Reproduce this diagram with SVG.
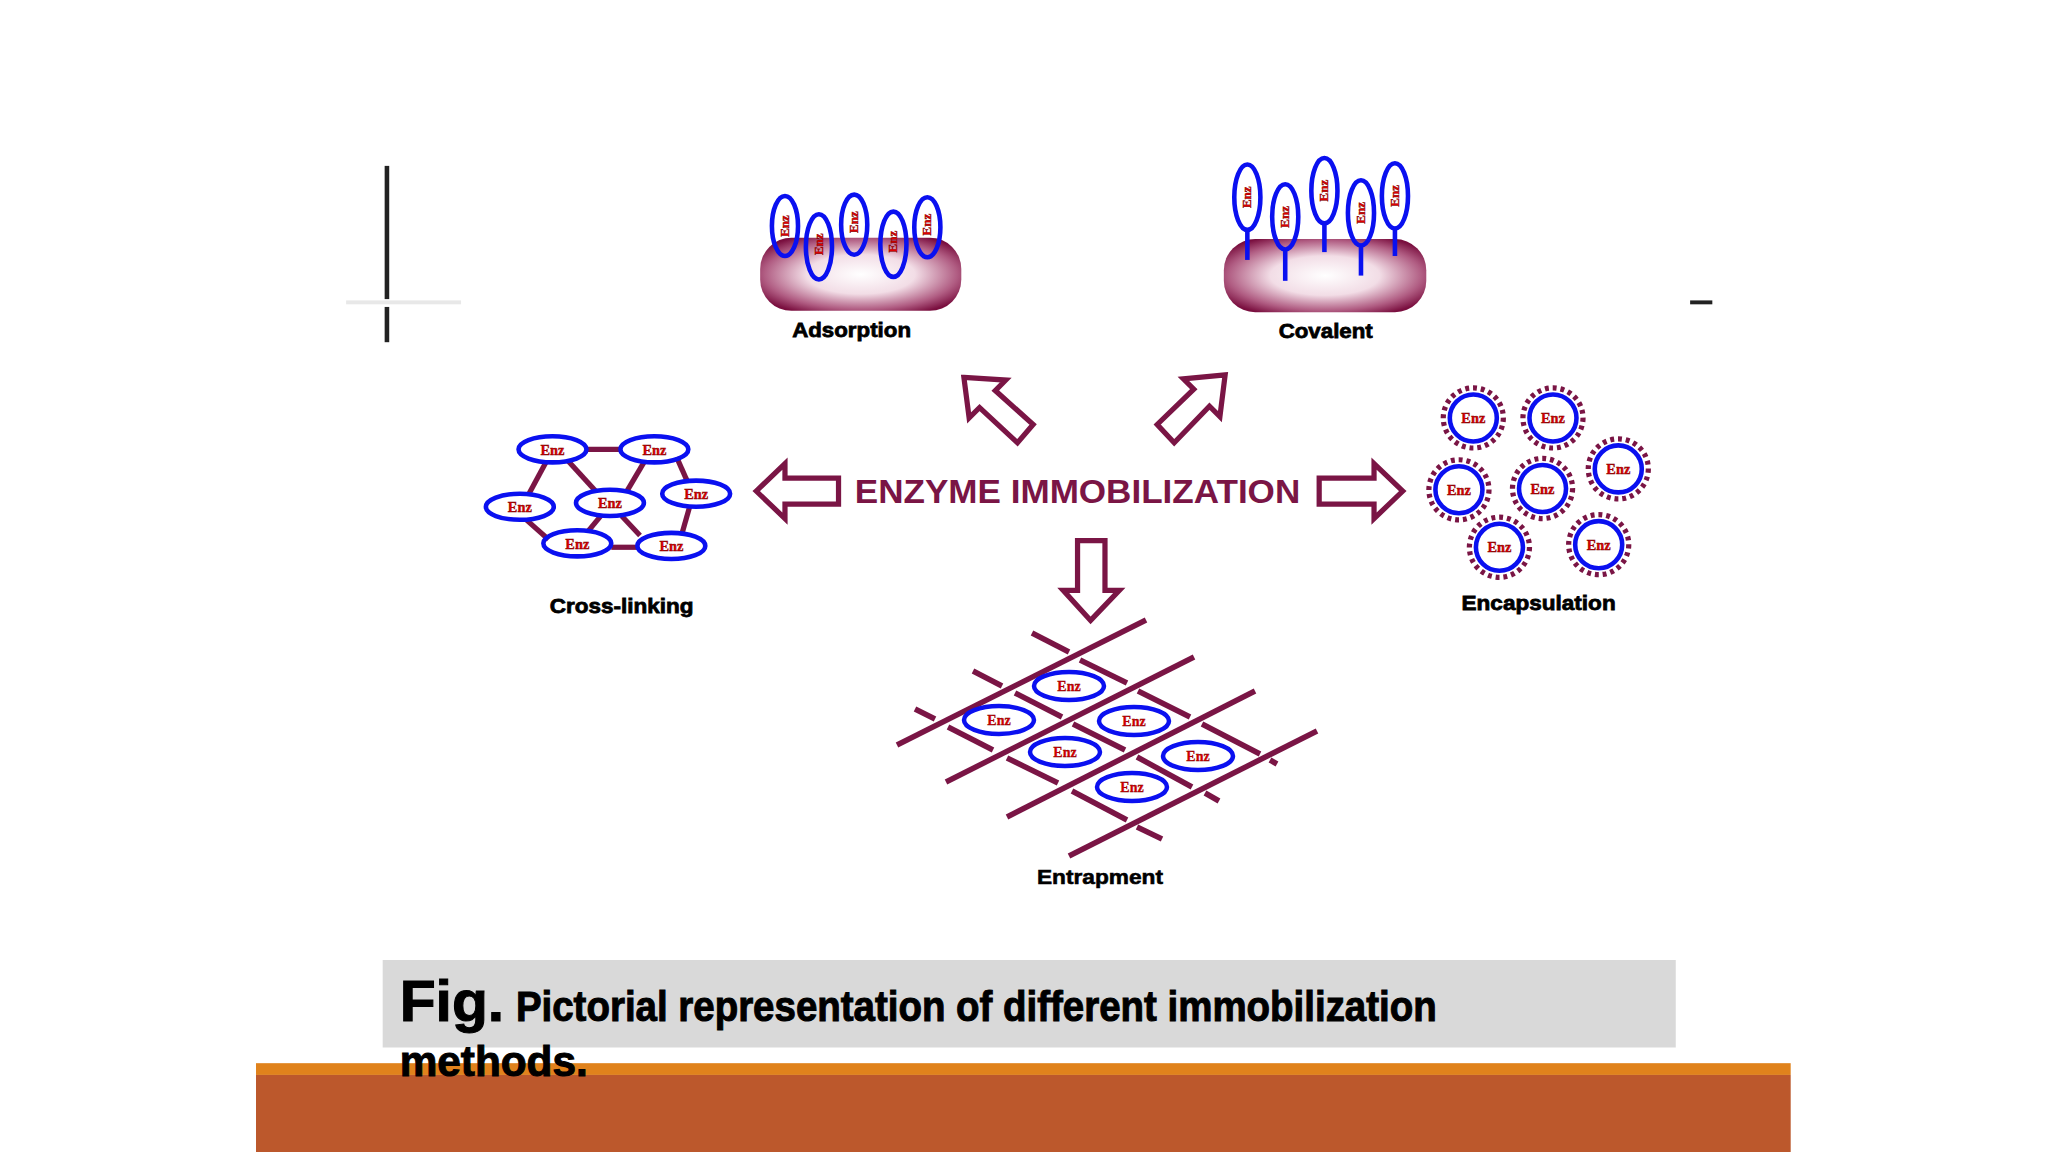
<svg xmlns="http://www.w3.org/2000/svg" width="2048" height="1152" viewBox="0 0 2048 1152">
<defs>
<radialGradient id="pill" cx="0.5" cy="0.5" r="0.6">
<stop offset="0" stop-color="#ffffff"/><stop offset="0.45" stop-color="#f2dde6"/><stop offset="0.8" stop-color="#b05c82"/><stop offset="1" stop-color="#7a0f3f"/>
</radialGradient>
<style>
.enz{fill:none;stroke:#0a10f0;stroke-width:3.5}
.et{font-family:"Liberation Serif",serif;font-weight:bold;fill:#e00000;stroke:#700;stroke-width:0.3;text-anchor:middle}
.lbl{font-family:"Liberation Sans",sans-serif;font-weight:bold;fill:#000;stroke:#000;stroke-width:0.6;text-anchor:middle}
.arr{fill:#fff;stroke:#7a1545;stroke-width:4;stroke-linejoin:miter}
.mar{stroke:#7a1545;stroke-width:4;fill:none;stroke-linecap:butt}
.cap{stroke:#7a1545;stroke-width:4;fill:none;stroke-dasharray:3 3}
.ent{stroke:#7a1545;stroke-width:5.5;fill:none}
.enz2{fill:#fff;stroke:#0a10f0;stroke-width:4.5}
.ct{font-family:"Liberation Sans",sans-serif;font-weight:bold;fill:#000;stroke:#000;stroke-width:0.8}
</style>
</defs>
<rect width="2048" height="1152" fill="#fff"/>
<g transform="scale(1.30612)">
<g id="decor">
<rect x="294.5" y="127" width="3.5" height="102" fill="#222"/>
<rect x="294.5" y="235" width="3.5" height="27" fill="#222"/>
<rect x="265" y="230" width="88" height="3" fill="#e8e8e8"/>
<rect x="1294" y="230" width="17" height="3" fill="#222"/>
</g>
<g id="adsorption">
<rect x="582" y="182" width="154" height="56" rx="24" fill="url(#pill)"/>
<g class="enz">
<ellipse cx="601" cy="173" rx="10" ry="23"/><ellipse cx="627" cy="189" rx="10" ry="25"/><ellipse cx="654" cy="172" rx="10" ry="23"/><ellipse cx="684" cy="187" rx="10" ry="25"/><ellipse cx="710" cy="174" rx="10" ry="23"/>
</g>
<g class="et" font-size="10">
<text transform="translate(604,173) rotate(-90)">Enz</text><text transform="translate(630,187) rotate(-90)">Enz</text><text transform="translate(657,170) rotate(-90)">Enz</text><text transform="translate(687,185) rotate(-90)">Enz</text><text transform="translate(713,172) rotate(-90)">Enz</text>
</g>
<text class="lbl" x="652" y="258" font-size="16" textLength="91" lengthAdjust="spacingAndGlyphs">Adsorption</text>
</g>
<g id="covalent">
<rect x="937" y="183" width="155" height="56" rx="24" fill="url(#pill)"/>
<g class="enz">
<ellipse cx="955" cy="151" rx="10" ry="25"/><line x1="955" y1="176" x2="955" y2="199"/>
<ellipse cx="984" cy="166" rx="10" ry="25"/><line x1="984" y1="191" x2="984" y2="215"/>
<ellipse cx="1014" cy="146" rx="10" ry="25"/><line x1="1014" y1="171" x2="1014" y2="193"/>
<ellipse cx="1042" cy="163" rx="10" ry="25"/><line x1="1042" y1="188" x2="1042" y2="211"/>
<ellipse cx="1068" cy="150" rx="10" ry="25"/><line x1="1068" y1="175" x2="1068" y2="196"/>
</g>
<g class="et" font-size="10">
<text transform="translate(958,151) rotate(-90)">Enz</text><text transform="translate(987,166) rotate(-90)">Enz</text><text transform="translate(1017,146) rotate(-90)">Enz</text><text transform="translate(1045,163) rotate(-90)">Enz</text><text transform="translate(1071,150) rotate(-90)">Enz</text>
</g>
<text class="lbl" x="1015" y="259" font-size="16" textLength="72" lengthAdjust="spacingAndGlyphs">Covalent</text>
</g>
<g id="center">
<text x="825" y="385" font-family="Liberation Sans,sans-serif" font-weight="bold" font-size="26" fill="#7a1545" text-anchor="middle" textLength="341" lengthAdjust="spacingAndGlyphs">ENZYME IMMOBILIZATION</text>
</g>
<g id="connectors">
<polygon class="arr" points="579,376 601,355 601,366 642,366 642,386 601,386 601,397"/>
<polygon class="arr" points="1074,376 1052,355 1052,366 1010,366 1010,386 1052,386 1052,397"/>
<polygon class="arr" points="835,475 814,452 825,452 825,414 846,414 846,452 857,452"/>
<polygon class="arr" points="738,289 770,291 762,299 791,325 779,339 750,312 742,320"/>
<polygon class="arr" points="938,287 906,290 914,298 886,325 899,339 926,311 934,319"/>
</g>
<g id="crosslinking">
<g class="mar">
<line x1="449" y1="344" x2="475" y2="344"/><line x1="418" y1="354" x2="405" y2="378"/><line x1="435" y1="353" x2="456" y2="376"/>
<line x1="493" y1="354" x2="480" y2="376"/><line x1="518" y1="350" x2="526" y2="368"/><line x1="528" y1="388" x2="522" y2="409"/>
<line x1="403" y1="398" x2="420" y2="413"/><line x1="460" y1="395" x2="450" y2="407"/><line x1="476" y1="395" x2="490" y2="410"/><line x1="468" y1="419" x2="488" y2="419"/>
</g>
<g class="enz">
<ellipse cx="423" cy="344" rx="26" ry="10"/><ellipse cx="501" cy="344" rx="26" ry="10"/><ellipse cx="533" cy="378" rx="26" ry="10"/><ellipse cx="398" cy="388" rx="26" ry="10"/><ellipse cx="467" cy="385" rx="26" ry="10"/><ellipse cx="442" cy="416" rx="26" ry="10"/><ellipse cx="514" cy="418" rx="26" ry="10"/>
</g>
<g class="et" font-size="11">
<text x="423" y="348">Enz</text><text x="501" y="348">Enz</text><text x="533" y="382">Enz</text><text x="398" y="392">Enz</text><text x="467" y="389">Enz</text><text x="442" y="420">Enz</text><text x="514" y="422">Enz</text>
</g>
<text class="lbl" x="476" y="469" font-size="16" textLength="110" lengthAdjust="spacingAndGlyphs">Cross-linking</text>
</g>
<g id="encapsulation">
<g class="cap">
<circle cx="1128" cy="320" r="23"/><circle cx="1189" cy="320" r="23"/><circle cx="1239" cy="359" r="23"/><circle cx="1117" cy="375" r="23"/><circle cx="1181" cy="374" r="23"/><circle cx="1148" cy="419" r="23"/><circle cx="1224" cy="417" r="23"/>
</g>
<g class="enz">
<circle cx="1128" cy="320" r="18"/><circle cx="1189" cy="320" r="18"/><circle cx="1239" cy="359" r="18"/><circle cx="1117" cy="375" r="18"/><circle cx="1181" cy="374" r="18"/><circle cx="1148" cy="419" r="18"/><circle cx="1224" cy="417" r="18"/>
</g>
<g class="et" font-size="11">
<text x="1128" y="324">Enz</text><text x="1189" y="324">Enz</text><text x="1239" y="363">Enz</text><text x="1117" y="379">Enz</text><text x="1181" y="378">Enz</text><text x="1148" y="423">Enz</text><text x="1224" y="421">Enz</text>
</g>
<text class="lbl" x="1178" y="467" font-size="16" textLength="118" lengthAdjust="spacingAndGlyphs">Encapsulation</text>
</g>
<g id="caption">
<rect x="293" y="735" width="990" height="67" fill="#d9d9d9"/>
<rect x="196" y="814" width="1175" height="9" fill="#e0821c"/>
<rect x="196" y="823" width="1175" height="60" fill="#bc582c"/>
<text class="ct" x="306" y="782" font-size="44" textLength="80" lengthAdjust="spacingAndGlyphs">Fig.</text>
<text class="ct" x="395" y="782" font-size="33" textLength="705" lengthAdjust="spacingAndGlyphs">Pictorial representation of different immobilization</text>
<text class="ct" x="306" y="824" font-size="33" textLength="144" lengthAdjust="spacingAndGlyphs">methods.</text>
</g>
</g>
<g id="entrapment">
<g class="ent">
<line x1="897" y1="745" x2="1146" y2="620"/><line x1="946" y1="782" x2="1194" y2="657"/><line x1="1007" y1="817" x2="1255" y2="691"/><line x1="1069" y1="856" x2="1317" y2="731"/>
<line x1="915" y1="709" x2="935" y2="719"/><line x1="948" y1="727" x2="993" y2="750"/><line x1="1007" y1="758" x2="1058" y2="783"/><line x1="1072" y1="791" x2="1127" y2="820"/><line x1="1137" y1="827" x2="1162" y2="839"/>
<line x1="973" y1="671" x2="1002" y2="686"/><line x1="1015" y1="693" x2="1062" y2="717"/><line x1="1073" y1="724" x2="1125" y2="750"/><line x1="1137" y1="757" x2="1192" y2="787"/><line x1="1205" y1="793" x2="1219" y2="801"/>
<line x1="1032" y1="633" x2="1069" y2="652"/><line x1="1080" y1="660" x2="1127" y2="683"/><line x1="1138" y1="691" x2="1190" y2="717"/><line x1="1202" y1="724" x2="1260" y2="754"/><line x1="1270" y1="760" x2="1277" y2="764"/>
</g>
<g class="enz2">
<ellipse cx="1069" cy="686" rx="35" ry="14"/><ellipse cx="999" cy="720" rx="35" ry="14"/><ellipse cx="1134" cy="721" rx="35" ry="14"/><ellipse cx="1065" cy="752" rx="35" ry="14"/><ellipse cx="1198" cy="756" rx="35" ry="14"/><ellipse cx="1132" cy="787" rx="35" ry="14"/>
</g>
<g class="et" font-size="14">
<text x="1069" y="691">Enz</text><text x="999" y="725">Enz</text><text x="1134" y="726">Enz</text><text x="1065" y="757">Enz</text><text x="1198" y="761">Enz</text><text x="1132" y="792">Enz</text>
</g>
<text class="lbl" x="1100" y="884" font-size="21" textLength="126" lengthAdjust="spacingAndGlyphs">Entrapment</text>
</g>
</svg>
